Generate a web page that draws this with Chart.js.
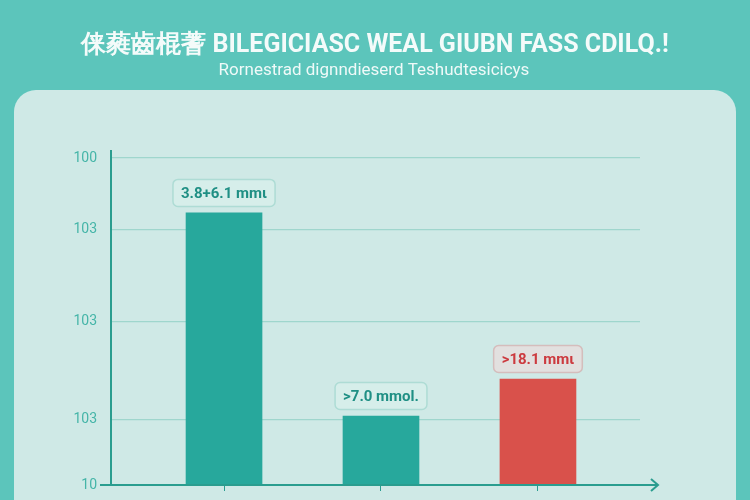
<!DOCTYPE html>
<html>
<head>
<meta charset="utf-8">
<script src="https://cdn.jsdelivr.net/npm/chart.js@4"></script>
<style>
  html, body { margin: 0; padding: 0; background: #5cc5bb; }
  #wrap { width: 750px; height: 500px; }
</style>
</head>
<body>
<div id="wrap"><canvas id="glucose"></canvas></div>
<script>
// chart data
const positions = [0, 1, 2];
const values = [83.2, 21.1, 32.4];
const barLabels = ['3.8+6.1 mmι', '>7.0 mmol.', '>18.1 mmι'];
const barColors = ['#27a89c', '#27a89c', '#d9514b'];
const labelColors = ['#1f8f84', '#1f8f84', '#cc3a3f'];
const tickValues = [0, 20, 50, 78, 100];
const tickLabels = ['10', '103', '103', '103', '100'];
const titleText = '俫蕤齒棍蓍 BILEGICIASC WEAL GIUBN FASS CDILQ.!';
const subtitleText = 'Rornestrad dignndieserd Teshudtesicicys';

const backdrop = {
  id: 'backdrop',
  beforeDraw(chart) {
    const c = chart.ctx;
    c.save();
    c.fillStyle = '#5cc5bb';
    c.fillRect(0, 0, chart.width, chart.height);
    c.fillStyle = '#cfe9e6';
    c.beginPath();
    c.roundRect(14, 90, 722, 460, 22);
    c.fill();
    c.fillStyle = '#f4fbfa';
    c.textAlign = 'center';
    c.textBaseline = 'middle';
    c.font = 'bold 25px Roboto';
    c.fillText(titleText, 375, 46);
    c.fillStyle = 'rgba(255,255,255,0.9)';
    c.font = '17px Roboto';
    c.fillText(subtitleText, 374, 71);
    c.restore();
  },
  afterDraw(chart) {
    const c = chart.ctx;
    const y = chart.scales.y.getPixelForValue(0);
    const left = chart.chartArea.left;
    c.save();
    c.strokeStyle = '#2a9d8f';
    c.lineWidth = 2;
    c.beginPath();
    c.moveTo(left - 11, y);
    c.lineTo(657, y);
    c.stroke();
    c.beginPath();
    c.moveTo(651, y - 6);
    c.lineTo(658, y);
    c.lineTo(651, y + 6);
    c.stroke();
    c.beginPath();
    c.moveTo(left, y);
    c.lineTo(left, chart.scales.y.getPixelForValue(100) - 8);
    c.stroke();
    c.restore();
  }
};

const barTags = {
  id: 'barTags',
  afterDatasetsDraw(chart) {
    const c = chart.ctx;
    const meta = chart.getDatasetMeta(0);
    c.save();
    c.font = 'bold 15px Roboto';
    c.textAlign = 'center';
    c.textBaseline = 'middle';
    meta.data.forEach((bar, i) => {
      const w = c.measureText(barLabels[i]).width + 16;
      const h = 27;
      const cy = bar.y - 20;
      c.fillStyle = i === 2 ? 'rgba(232,220,220,0.75)' : 'rgba(214,238,234,0.9)';
      c.strokeStyle = i === 2 ? 'rgba(210,150,150,0.5)' : 'rgba(150,210,200,0.6)';
      c.lineWidth = 1.5;
      c.beginPath();
      c.roundRect(bar.x - w / 2, cy - h / 2, w, h, 5);
      c.fill();
      c.stroke();
      c.fillStyle = labelColors[i];
      c.fillText(barLabels[i], bar.x, cy + 1);
    });
    c.restore();
  }
};

new Chart(document.getElementById('glucose'), {
  type: 'bar',
  data: {
    datasets: [{
      data: positions.map((p, i) => ({ x: p, y: values[i] })),
      backgroundColor: barColors,
      borderWidth: 0,
      barThickness: 76,
    }],
  },
  options: {
    responsive: true,
    maintainAspectRatio: false,
    animation: false,
    layout: { padding: { top: 158, right: 110, bottom: 9, left: 0 } },
    plugins: {
      legend: { display: false },
      tooltip: { enabled: false },
    },
    scales: {
      x: {
        type: 'linear',
        min: -0.72,
        max: 2.65,
        offset: false,
        afterBuildTicks: (axis) => { axis.ticks = positions.map(v => ({ value: v })); },
        afterFit: (axis) => { axis.height = 6; },
        grid: { offset: false, drawOnChartArea: false, color: '#2a9d8f', tickLength: 6, lineWidth: 1 },
        border: { display: false },
        ticks: { display: false },
      },
      y: {
        min: 0,
        max: 100,
        afterBuildTicks: (axis) => { axis.ticks = tickValues.map(v => ({ value: v })); },
        afterFit: (axis) => {
          axis.width = 111;
          axis.paddingTop = 0;
          axis.paddingBottom = 0;
        },
        grid: { color: '#9fd6cd', lineWidth: 1.2, drawTicks: false },
        border: { display: false },
        ticks: {
          color: '#45b5a8',
          font: { family: 'Roboto', size: 14 },
          padding: 14,
          callback: (v, i) => tickLabels[i],
        },
      },
    },
  },
  plugins: [backdrop, barTags],
});
</script>
</body>
</html>
